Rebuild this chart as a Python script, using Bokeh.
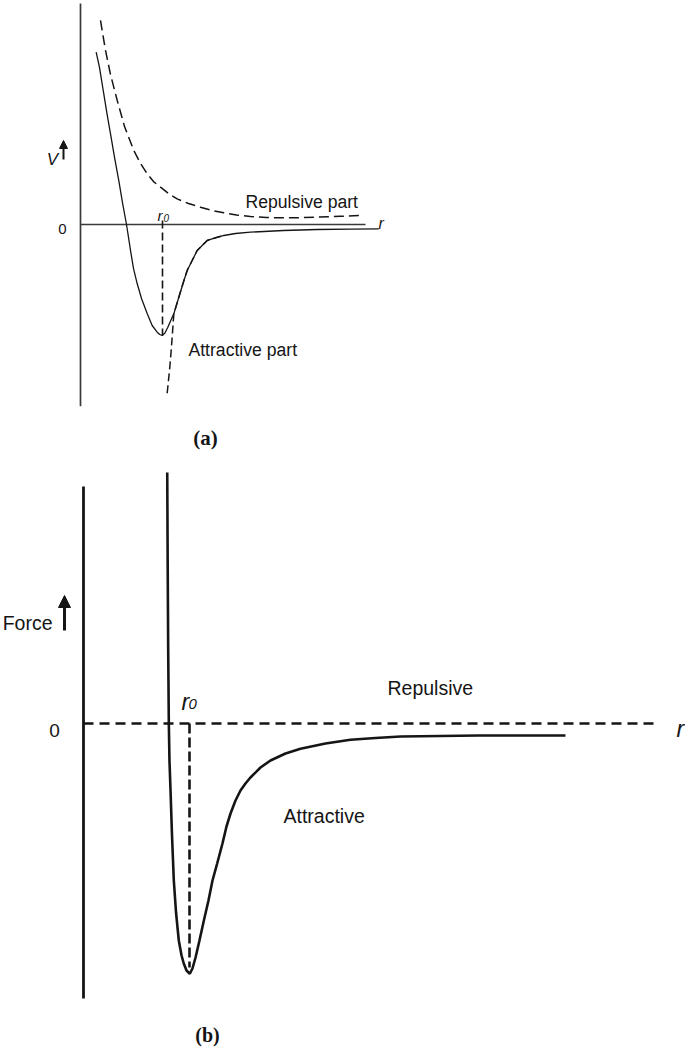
from bokeh.plotting import figure
from bokeh.layouts import column
from bokeh.models import Label, Arrow, NormalHead
from bokeh.embed import file_html
from bokeh.resources import INLINE

# ---------------- Data: panel (a) potential energy V(r) ----------------
# total potential (solid)
pot_r = [0.191, 0.232, 0.284, 0.323, 0.366, 0.415, 0.467, 0.512, 0.561, 0.610, 0.646,
         0.691, 0.744, 0.813, 0.874, 0.935, 0.967, 0.996, 1.028, 1.065, 1.098, 1.138,
         1.199, 1.250, 1.301, 1.362, 1.423, 1.484, 1.545, 1.646, 1.748, 1.890, 2.073,
         2.476, 2.886, 3.293, 3.638]
pot_v = [1.552, 1.414, 1.177, 0.999, 0.817, 0.604, 0.396, 0.198, 0.000, -0.234, -0.396,
         -0.532, -0.667, -0.802, -0.910, -0.970, -0.991, -1.000, -0.979, -0.925, -0.869, -0.805,
         -0.655, -0.532, -0.414, -0.324, -0.234, -0.189, -0.144, -0.120, -0.099, -0.081, -0.069,
         -0.054, -0.045, -0.042, -0.039]
# repulsive part (dashed)
rep_r = [0.244, 0.274, 0.305, 0.366, 0.448, 0.537, 0.650, 0.732, 0.813, 0.890, 0.976, 1.073,
         1.179, 1.317, 1.463, 1.610, 1.748, 1.902, 2.073, 2.268, 2.479, 2.683, 2.887, 3.171, 3.415]
rep_v = [1.838, 1.703, 1.568, 1.351, 1.117, 0.883, 0.667, 0.550, 0.457, 0.387, 0.336, 0.279,
         0.231, 0.189, 0.156, 0.126, 0.105, 0.086, 0.072, 0.063, 0.060, 0.061, 0.066, 0.074, 0.081]
# attractive part (dashed)
att_r = [1.057, 1.073, 1.089, 1.106, 1.122, 1.138, 1.199, 1.250, 1.301, 1.362, 1.423, 1.484,
         1.545, 1.646, 1.748]
att_v = [-1.520, -1.405, -1.286, -1.135, -0.973, -0.805, -0.655, -0.532, -0.414, -0.324, -0.234,
         -0.189, -0.144, -0.120, -0.099]

R0_A = 1.0
V_MIN = -1.0
AXIS_A_R_END = 3.476
AXIS_A_V_TOP = 1.99
AXIS_A_V_BOTTOM = -1.638
R0_A_TOP = 0.036

# ---------------- Data: panel (b) force F(r) ----------------
force_r = [0.790, 0.794, 0.799, 0.805, 0.811, 0.821, 0.835, 0.852, 0.873, 0.899, 0.925, 0.946,
           0.972, 1.003, 1.028, 1.057, 1.094, 1.135, 1.179, 1.217, 1.261, 1.311, 1.349, 1.387,
           1.434, 1.481, 1.528, 1.575, 1.670, 1.764, 1.906, 2.047, 2.283, 2.519, 2.755, 2.991,
           3.368, 3.726, 4.123, 4.547]
force_f = [1.004, 0.652, 0.292, 0.000, -0.148, -0.268, -0.448, -0.628, -0.756, -0.868, -0.928,
           -0.960, -0.988, -1.001, -0.980, -0.936, -0.868, -0.789, -0.708, -0.628, -0.560, -0.480,
           -0.412, -0.360, -0.308, -0.268, -0.240, -0.216, -0.176, -0.148, -0.120, -0.101, -0.080,
           -0.065, -0.058, -0.052, -0.050, -0.048, -0.048, -0.048]

R0_B = 1.0
F_R0_BOTTOM = -0.976
AXIS_B_R_END = 5.415
AXIS_B_F_TOP = 0.948
AXIS_B_F_BOTTOM = -1.100

# ---------------- Layout helpers (page-pixel -> data for annotations) ----------------
W = 685
HA = 450
HB = 1047 - HA

def ax(px): return (px - 80) / 82.0
def ay(py): return (224 - py) / 111.0
def bx(px): return (px - 83) / 106.0
def by(py): return (723 - py) / 250.0

INK = "#151515"
SANS = "Liberation Sans"
SERIF = "Liberation Serif"


def make_fig(h, fx, fy, y_top_page, y_bot_page):
    p = figure(width=W, height=h, output_backend="svg", toolbar_location=None,
               x_axis_location=None, y_axis_location=None, min_border=0,
               x_range=(fx(0), fx(W)),
               y_range=(fy(y_bot_page), fy(y_top_page)))
    p.outline_line_color = None
    p.grid.visible = False
    p.background_fill_color = "white"
    p.border_fill_color = "white"
    return p


def label(p, x, y, txt, size, style="normal", font=SANS, align="left", baseline="alphabetic"):
    p.add_layout(Label(x=x, y=y, text=txt, text_font=font, text_font_size=size,
                       text_font_style=style, text_align=align, text_baseline=baseline,
                       text_color=INK))

# ================= Panel (a) =================
pa = make_fig(HA, ax, ay, 0, HA)
pa.segment(x0=[0], y0=[AXIS_A_V_TOP], x1=[0], y1=[AXIS_A_V_BOTTOM], line_color="#3a3a3a", line_width=1.7)
pa.segment(x0=[0], y0=[0], x1=[AXIS_A_R_END], y1=[0], line_color="#3a3a3a", line_width=1.5)
pa.segment(x0=[R0_A], y0=[R0_A_TOP], x1=[R0_A], y1=[V_MIN], line_color=INK, line_width=1.6, line_dash="8 4")
pa.line(rep_r, rep_v, line_color=INK, line_width=1.5, line_dash="10 5")
pa.line(att_r, att_v, line_color=INK, line_width=1.5, line_dash="8 4")
pa.line(pot_r, pot_v, line_color=INK, line_width=1.3)

pa.add_layout(Arrow(end=NormalHead(size=8, fill_color=INK, line_color=INK),
                    x_start=ax(63), y_start=ay(159), x_end=ax(63), y_end=ay(140),
                    line_color=INK, line_width=2))
label(pa, ax(52), ay(158.5), "V", "17px", style="italic", align="center")
label(pa, ax(62), ay(228.5), "0", "15px", align="center")
label(pa, ax(378), ay(223), "r", "16px", style="italic")
label(pa, ax(157), ay(215), "r", "15px", style="italic")
label(pa, ax(163), ay(217), "0", "10px", style="italic")
label(pa, ax(245), ay(201.7), "Repulsive part", "17.6px")
label(pa, ax(188), ay(349.3), "Attractive part", "17.6px")
label(pa, ax(205), ay(437), "(a)", "21px", style="bold", font=SERIF, align="center")

# ================= Panel (b) =================
pb = make_fig(HB, bx, by, HA, HA + HB)
pb.segment(x0=[0], y0=[AXIS_B_F_TOP], x1=[0], y1=[AXIS_B_F_BOTTOM], line_color=INK, line_width=2.8)
pb.segment(x0=[0], y0=[0], x1=[AXIS_B_R_END], y1=[0], line_color=INK, line_width=2.6, line_dash="10 6")
pb.segment(x0=[R0_B], y0=[0], x1=[R0_B], y1=[F_R0_BOTTOM], line_color=INK, line_width=2.6, line_dash="10 4")
pb.line(force_r, force_f, line_color=INK, line_width=2.6)

pb.add_layout(Arrow(end=NormalHead(size=12, fill_color=INK, line_color=INK),
                    x_start=bx(64), y_start=by(630), x_end=bx(64), y_end=by(595),
                    line_color=INK, line_width=3))
label(pb, bx(52), by(622.3), "Force", "19.5px", align="right")
label(pb, bx(54), by(730), "0", "19px", align="center")
label(pb, bx(676), by(728), "r", "23px", style="italic")
label(pb, bx(181), by(701.7), "r", "23px", style="italic")
label(pb, bx(188), by(703.3), "0", "15px", style="italic")
label(pb, bx(387), by(687.3), "Repulsive", "19.5px")
label(pb, bx(283), by(815), "Attractive", "19.5px")
label(pb, bx(207), by(1034), "(b)", "20px", style="bold", font=SERIF, align="center")

layout = column(pa, pb)
open("out.html", "w").write(file_html(layout, INLINE))
